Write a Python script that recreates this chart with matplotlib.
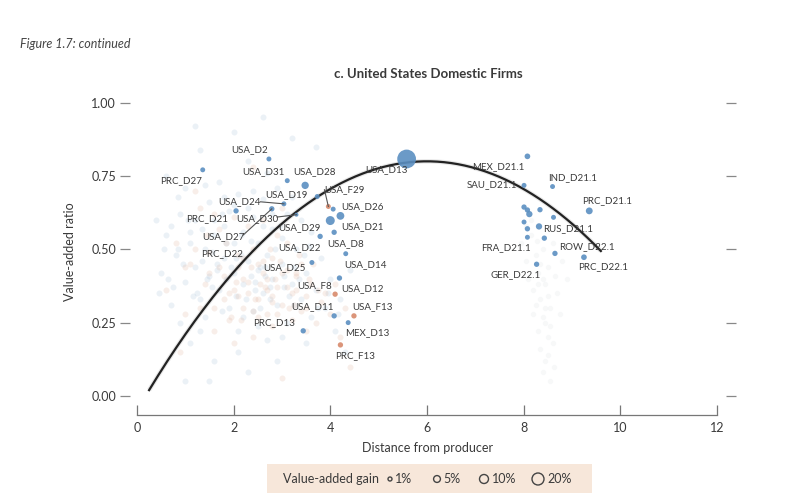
import matplotlib
matplotlib.use("Agg")
import matplotlib.pyplot as plt
import numpy as np
from matplotlib.patches import Rectangle

plt.rcParams['font.family'] = ['Lato', 'DejaVu Sans']

# highlighted economies: x = distance from producer, y = value-added ratio, gain in %
pt_x = [2.73, 1.36, 3.11, 3.48, 3.73, 3.04, 2.05, 2.79, 3.30, 3.96, 4.06, 4.21, 4.00,
        4.08, 3.79, 4.32, 3.62, 4.19, 4.10, 4.08, 4.49, 4.37, 3.44, 4.21, 5.58,
        8.08, 8.01, 8.60, 9.36, 8.01, 8.08, 8.12, 8.34, 8.62, 8.01, 8.08, 8.32,
        8.08, 8.43, 8.65, 9.25, 8.27]
pt_y = [0.808, 0.771, 0.734, 0.718, 0.680, 0.655, 0.631, 0.638, 0.618, 0.646, 0.637, 0.614, 0.598,
        0.558, 0.544, 0.485, 0.455, 0.402, 0.347, 0.273, 0.273, 0.250, 0.222, 0.174, 0.808,
        0.817, 0.718, 0.714, 0.631, 0.644, 0.634, 0.620, 0.635, 0.609, 0.593, 0.570, 0.578,
        0.541, 0.538, 0.486, 0.473, 0.449]
pt_gain = [2, 2, 2, 6, 2, 2, 2.5, 2.5, 1, 2, 2, 7, 10,
           2.5, 2.5, 2, 2, 2.5, 2.5, 2.5, 2.5, 2, 2.5, 2.5, 55,
           3, 2, 2, 5, 2.5, 2.5, 4, 2.5, 2, 2, 2.5, 4,
           2, 2.5, 2.5, 3, 2.5]
pt_foreign = [0, 0, 0, 0, 0, 0, 0, 0, 0, 1, 0, 0, 0,
              0, 0, 0, 0, 0, 1, 0, 1, 0, 0, 1, 0,
              0, 0, 0, 0, 0, 0, 0, 0, 0, 0, 0, 0,
              0, 0, 0, 0, 0]

# point labels (text position in data units, optional leader-line target)
labels = [
    ("USA_D2", 2.34, 0.840, None), ("PRC_D27", 0.91, 0.734, None),
    ("USA_D31", 2.61, 0.765, None), ("USA_D28", 3.68, 0.765, None),
    ("USA_D19", 3.10, 0.686, None), ("USA_D24", 2.13, 0.662, (3.04, 0.655)),
    ("PRC_D21", 1.45, 0.604, None), ("USA_D30", 2.48, 0.604, (3.30, 0.618)),
    ("USA_D27", 1.78, 0.543, (2.79, 0.638)), ("PRC_D22", 1.76, 0.485, None),
    ("USA_D29", 3.37, 0.573, None), ("USA_D22", 3.37, 0.505, None),
    ("USA_D25", 3.06, 0.437, None), ("USA_F29", 4.30, 0.703, (3.96, 0.646)),
    ("USA_D26", 4.66, 0.645, None), ("USA_D21", 4.66, 0.577, None),
    ("USA_D8", 4.32, 0.519, None), ("USA_D14", 4.72, 0.447, None),
    ("USA_F8", 3.68, 0.375, None), ("USA_D12", 4.66, 0.365, None),
    ("USA_D11", 3.64, 0.304, None), ("USA_F13", 4.88, 0.304, None),
    ("PRC_D13", 2.83, 0.249, None), ("MEX_D13", 4.76, 0.215, None),
    ("PRC_F13", 4.51, 0.137, None), ("USA_D13", 5.17, 0.771, None),
    ("MEX_D21.1", 7.47, 0.782, None), ("SAU_D21.1", 7.35, 0.720, None),
    ("IND_D21.1", 9.02, 0.744, None), ("PRC_D21.1", 9.72, 0.666, None),
    ("RUS_D21.1", 8.92, 0.570, None), ("FRA_D21.1", 7.63, 0.505, None),
    ("ROW_D22.1", 9.31, 0.509, None), ("PRC_D22.1", 9.64, 0.440, None),
    ("GER_D22.1", 7.84, 0.413, None),
]

# faint background observations
cloud_blue_x = [0.5, 0.6, 0.7, 0.8, 0.9, 0.9, 1.0, 1.0, 1.1, 1.1, 1.2, 1.2, 1.3, 1.3, 1.4, 1.4,
                1.5, 1.5, 1.6, 1.6, 1.7, 1.7, 1.8, 1.8, 1.9, 1.9, 2.0, 2.0, 2.1, 2.1, 2.2, 2.2,
                2.3, 2.3, 2.4, 2.4, 2.5, 2.5, 2.6, 2.6, 2.7, 2.7, 2.8, 2.8, 2.9, 2.9, 3.0, 3.0,
                3.1, 3.1, 3.2, 3.2, 3.3, 3.4, 3.4, 3.5, 3.6, 3.6, 3.7, 3.8, 3.9, 4.0, 4.1, 4.2,
                4.3, 4.4, 1.2, 2.0, 2.6, 3.7, 0.4, 0.6, 1.5, 2.3, 2.9, 3.5, 1.0, 1.85, 2.15, 2.45,
                1.65, 2.75, 1.35, 2.55, 0.75, 1.05, 3.25, 2.05, 1.55, 2.35, 0.85, 1.75, 2.65, 3.05,
                1.25, 1.45, 1.65, 1.85, 2.05, 2.25, 2.45, 2.65, 2.85, 3.05, 3.25, 3.45, 1.35, 1.55,
                1.75, 1.95, 2.15, 2.35, 2.55, 2.75, 2.95, 3.15, 3.35, 3.55, 0.95, 1.15, 0.55, 0.65,
                0.45, 3.75, 3.95, 4.15, 2.0, 2.2, 2.4, 2.6, 1.8, 1.6, 1.4, 2.8, 3.0, 3.2, 1.1, 1.3,
                0.7, 0.85, 2.1, 2.3, 2.5, 2.7]
cloud_blue_y = [0.42, 0.55, 0.31, 0.48, 0.62, 0.25, 0.39, 0.71, 0.52, 0.18, 0.44, 0.60, 0.33, 0.84, 0.50, 0.27,
                0.66, 0.41, 0.55, 0.12, 0.36, 0.73, 0.47, 0.58, 0.30, 0.63, 0.42, 0.52, 0.22, 0.69, 0.38, 0.56,
                0.46, 0.80, 0.29, 0.61, 0.43, 0.52, 0.35, 0.67, 0.48, 0.19, 0.57, 0.40, 0.31, 0.71, 0.45, 0.54,
                0.25, 0.62, 0.38, 0.88, 0.50, 0.33, 0.60, 0.42, 0.27, 0.56, 0.36, 0.47, 0.30, 0.40, 0.22, 0.33,
                0.15, 0.43, 0.92, 0.90, 0.95, 0.85, 0.60, 0.75, 0.05, 0.08, 0.12, 0.18, 0.05, 0.40, 0.48, 0.36,
                0.45, 0.33, 0.57, 0.44, 0.37, 0.60, 0.44, 0.34, 0.49, 0.53, 0.50, 0.62, 0.41, 0.37,
                0.35, 0.40, 0.43, 0.52, 0.47, 0.33, 0.39, 0.44, 0.50, 0.41, 0.31, 0.48, 0.46, 0.37,
                0.29, 0.44, 0.55, 0.41, 0.30, 0.37, 0.58, 0.34, 0.40, 0.51, 0.45, 0.34, 0.50, 0.40,
                0.35, 0.30, 0.35, 0.28, 0.65, 0.27, 0.70, 0.58, 0.68, 0.60, 0.72, 0.62, 0.20, 0.68, 0.56, 0.22,
                0.58, 0.68, 0.15, 0.64, 0.24, 0.76]
cloud_orange_x = [0.6, 0.8, 1.0, 1.1, 1.3, 1.4, 1.5, 1.6, 1.7, 1.8, 1.9, 2.0, 2.1, 2.2, 2.3, 2.4,
                  2.5, 2.6, 2.7, 2.8, 2.9, 3.0, 3.1, 3.2, 3.3, 3.4, 3.5, 3.6, 3.7, 3.8, 4.0, 4.2,
                  1.2, 1.9, 2.3, 2.7, 3.1, 3.5, 2.1, 2.5, 2.9, 3.3, 1.6, 2.2, 2.8, 3.9, 1.45, 2.05,
                  2.45, 2.85, 3.25, 3.65, 1.85, 2.65, 0.9, 4.4, 3.0, 2.4,
                  1.7, 2.0, 2.2, 2.4, 2.6, 2.8, 3.0, 3.2, 3.4, 1.8, 2.1, 2.3, 2.5, 2.7, 2.9, 3.1,
                  3.3, 3.5, 1.5, 1.3, 2.15, 2.55, 2.95, 3.35, 1.95, 2.35, 2.75, 3.15, 3.55, 3.75,
                  1.2, 1.0, 4.1, 4.3, 2.0, 2.6, 3.0, 1.6, 2.4, 2.8]
cloud_orange_y = [0.36, 0.52, 0.28, 0.45, 0.64, 0.38, 0.49, 0.30, 0.57, 0.41, 0.35, 0.61, 0.44, 0.30, 0.39, 0.50,
                  0.33, 0.42, 0.28, 0.47, 0.37, 0.31, 0.43, 0.26, 0.36, 0.45, 0.30, 0.38, 0.25, 0.32, 0.28, 0.20,
                  0.70, 0.26, 0.58, 0.36, 0.52, 0.22, 0.34, 0.27, 0.55, 0.41, 0.22, 0.47, 0.32, 0.35, 0.55, 0.39,
                  0.33, 0.40, 0.31, 0.45, 0.52, 0.37, 0.15, 0.10, 0.06, 0.78,
                  0.44, 0.36, 0.40, 0.29, 0.46, 0.34, 0.42, 0.35, 0.29, 0.33, 0.48, 0.35, 0.45, 0.40, 0.28, 0.37,
                  0.42, 0.34, 0.42, 0.30, 0.26, 0.38, 0.46, 0.48, 0.27, 0.44, 0.50, 0.30, 0.40, 0.36,
                  0.50, 0.44, 0.38, 0.30, 0.18, 0.60, 0.64, 0.62, 0.20, 0.24]
cloud_right_x = [7.95, 8.05, 8.10, 8.15, 8.20, 8.25, 8.30, 8.35, 8.40, 8.45, 8.50, 8.55, 8.60, 8.65,
                 8.70, 8.80, 8.90, 8.20, 8.30, 8.40, 8.50, 8.35, 8.45, 8.55, 8.25, 8.40, 8.50, 8.30,
                 8.45, 8.60, 8.35, 8.50, 8.40, 8.55, 8.45, 8.15, 8.75, 8.05, 8.62, 8.28]
cloud_right_y = [0.52, 0.46, 0.40, 0.55, 0.36, 0.48, 0.42, 0.33, 0.50, 0.38, 0.44, 0.30, 0.52, 0.41,
                 0.35, 0.46, 0.40, 0.28, 0.22, 0.27, 0.20, 0.16, 0.12, 0.24, 0.31, 0.08, 0.14, 0.38,
                 0.30, 0.18, 0.45, 0.34, 0.40, 0.05, 0.25, 0.60, 0.28, 0.58, 0.10, 0.53]

# fitted quadratic: y = c0 + c1*x + c2*x^2
fit_c0, fit_c1, fit_c2 = -0.0496, 0.2832, -0.0236
fit_range = (0.25, 9.6)

legend_gains = [1, 5, 10, 20]

BLUE = "#5b8fc1"
ORANGE = "#d78a6c"
TXT = "#3a3a3a"


def gain_to_s(g):
    d = 1.7 + 2.3 * np.sqrt(np.asarray(g, dtype=float))  # diameter in px
    return (d * 0.72) ** 2


fig = plt.figure(figsize=(8, 5.04), dpi=100)
ax = fig.add_axes([130 / 800, 1 - 415 / 504, 596 / 800, 327 / 504])

ax.scatter(cloud_blue_x, cloud_blue_y, s=gain_to_s(3.5), color="#9db9d4", alpha=0.2, lw=0)
ax.scatter(cloud_orange_x, cloud_orange_y, s=gain_to_s(3.5), color="#dcab95", alpha=0.2, lw=0)
ax.scatter(cloud_right_x, cloud_right_y, s=gain_to_s(2.5), color="#c2c9d0", alpha=0.13, lw=0)

xs = np.linspace(*fit_range, 200)
ys = fit_c0 + fit_c1 * xs + fit_c2 * xs ** 2
ax.plot(xs, ys, color="#bdbdbd", lw=3.2, alpha=0.35, solid_capstyle='butt', zorder=3)
ax.plot(xs, ys, color="#222222", lw=1.6, zorder=4)

colors = [ORANGE if f else BLUE for f in pt_foreign]
ax.scatter(pt_x, pt_y, s=gain_to_s(pt_gain), c=colors, alpha=0.9, lw=0, zorder=5)

for name, tx, ty, target in labels:
    ax.text(tx, ty, name, fontsize=7, color=TXT, ha='center', va='center', zorder=6)
    if target is not None:
        # leader line from label edge to the point
        dx = 0.42 if target[0] > tx else -0.42
        ax.plot([tx + dx, target[0]], [ty + (0.006 if target[1] > ty else 0), target[1]],
                color="#555555", lw=0.8, zorder=5)

ax.set_xlim(-0.145, 12.19)
ax.set_ylim(-0.065, 1.05)
ax.set_xticks(range(0, 13, 2))
ax.set_yticks([0, 0.25, 0.5, 0.75, 1.0])
ax.set_yticklabels(["0.00", "0.25", "0.50", "0.75", "1.00"])
for s in ['top', 'left', 'right']:
    ax.spines[s].set_visible(False)
ax.spines['bottom'].set_bounds(0, 12)
ax.spines['bottom'].set_color("#777777")
ax.spines['bottom'].set_linewidth(0.9)
ax.tick_params(axis='x', direction='in', length=7, width=0.9, color="#777777",
               labelsize=9, labelcolor=TXT, pad=5)
ax.tick_params(axis='y', direction='out', length=7, width=0.9, color="#888888",
               labelsize=9, labelcolor=TXT, pad=3, right=True, labelright=False)
ax.set_xlabel("Distance from producer", fontsize=9, color=TXT, labelpad=6)
ax.set_ylabel("Value-added ratio", fontsize=9, color=TXT, labelpad=11)
ax.set_title("c. United States Domestic Firms", fontsize=9.5, fontweight='bold',
             color=TXT, pad=7)

# overlay in pixel coordinates for caption and legend
ov = fig.add_axes([0, 0, 1, 1], zorder=-1)
ov.set_xlim(0, 800)
ov.set_ylim(504, 0)
ov.axis('off')
ov.text(20, 44, "Figure 1.7: continued", fontsize=9, style='italic', color="#444444",
        va='center')

ov.add_patch(Rectangle((267, 464), 325, 29, color="#f7e7da", lw=0))
ov.text(283, 479, "Value-added gain", fontsize=9, color=TXT, va='center')
leg_x = [390, 437, 484, 538]
ov.scatter(leg_x, [479] * 4, s=gain_to_s(legend_gains), facecolors='none',
           edgecolors="#444444", lw=1)
for lx, g in zip(leg_x, legend_gains):
    r = (1.7 + 2.3 * np.sqrt(g)) / 2
    ov.text(lx + r + 3, 479, f"{g}%", fontsize=9, color=TXT, va='center')

fig.savefig("out.png", dpi=100)
